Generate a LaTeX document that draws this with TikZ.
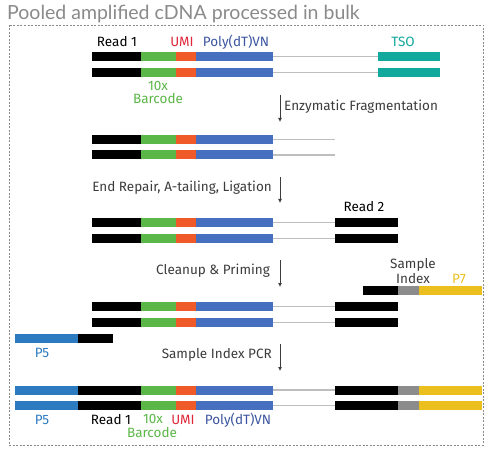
\documentclass[tikz,border=0pt]{standalone}
\usepackage{fontspec}
\usetikzlibrary{arrows.meta}
\setmainfont{Fira Sans}
\newfontfamily\titlefont{Lato}
\definecolor{cBlack}{HTML}{000000}
\definecolor{cGreen}{HTML}{5BB748}
\definecolor{cOrange}{HTML}{F05A28}
\definecolor{cBlue}{HTML}{4670BF}
\definecolor{cTeal}{HTML}{11A99C}
\definecolor{cLine}{HTML}{BEBEBE}
\definecolor{cP5}{HTML}{2C7BC0}
\definecolor{cYellow}{HTML}{EBC01E}
\definecolor{cIdx}{HTML}{8C8C8C}
\definecolor{cText}{HTML}{3C3C3C}
\definecolor{cRed}{HTML}{E0283A}
\definecolor{cPoly}{HTML}{3C55A0}
\definecolor{cTitle}{HTML}{8A8A8A}
\newcommand{\dnaseg}[4]{\fill[#1] (#2,#4-4.5) rectangle (#3,#4+4.5);}
\newcommand{\dnaline}[3]{\draw[cLine,line width=1.2] (#1,#3) -- (#2,#3);}
\newcommand{\insertstrand}[1]{%
  \dnaseg{cBlack}{92}{141}{#1}\dnaseg{cGreen}{141}{176}{#1}\dnaseg{cOrange}{176}{196}{#1}\dnaseg{cBlue}{196}{273}{#1}}
\begin{document}
\begin{tikzpicture}[x=1pt,y=-1pt,
  lbl/.style={inner sep=0pt,font=\fontsize{13.5}{14}\selectfont},
  steplbl/.style={lbl,text=cText},
  stepar/.style={-{Latex[length=4pt,width=4pt]},line width=0.8,cText}]
\useasboundingbox (0,0) rectangle (489,454);
\fill[white] (0,0) rectangle (489,454);
\node[anchor=west,inner sep=0pt,text=cTitle,font=\titlefont\fontsize{19.5}{21}\selectfont] (title) at (7,14) {Pooled amplified cDNA processed in bulk};
\draw[cTitle,dashed,dash pattern=on 2pt off 1.5pt,line width=0.8] (9,25) rectangle (483,445);
% Row 1
\foreach \y in {56.5,72.5}{
  \insertstrand{\y}
  \dnaline{273}{378}{\y}
  \dnaseg{cTeal}{378}{440}{\y}}
\node[lbl] (r1) at (117,42) {Read 1};
\node[lbl,text=cRed] (umi1) at (182,42) {UMI};
\node[lbl,text=cPoly] (poly1) at (236,42) {Poly(dT)VN};
\node[lbl,text=cTeal] (tso) at (403,42) {TSO};
\node[lbl,text=cGreen] (tenx1) at (158,86) {10x};
\node[lbl,text=cGreen] (bc1) at (158,99) {Barcode};
% Arrow 1
\coordinate (a1s) at (280,95); \coordinate (a1e) at (280,122);
\draw[stepar] (a1s) -- (a1e);
\node[steplbl,anchor=west] (s1) at (284,107) {Enzymatic Fragmentation};
% Row 2
\foreach \y in {139.5,155}{
  \insertstrand{\y}
  \dnaline{273}{335}{\y}}
% Arrow 2
\coordinate (a2s) at (280,177); \coordinate (a2e) at (280,203);
\draw[stepar] (a2s) -- (a2e);
\node[steplbl,anchor=east] (s2) at (272,188) {End Repair, A-tailing, Ligation};
% Row 3
\node[lbl] (r2) at (364,207) {Read 2};
\foreach \y in {222.5,238.5}{
  \insertstrand{\y}
  \dnaline{273}{335}{\y}
  \dnaseg{cBlack}{335}{398}{\y}}
% Arrow 3
\coordinate (a3s) at (280,260); \coordinate (a3e) at (280,287);
\draw[stepar] (a3s) -- (a3e);
\node[steplbl,anchor=east] (s3) at (270,271) {Cleanup \& Priming};
\node[steplbl] (samp) at (413,265) {Sample};
\node[steplbl] (idx) at (413,279) {Index};
\node[lbl,text=cYellow] (p7) at (459,279) {P7};
% P7 primer
\dnaseg{cBlack}{363}{398}{290.5}
\dnaseg{cIdx}{398}{419}{290.5}
\dnaseg{cYellow}{419}{482}{290.5}
% Row 4
\foreach \y in {306.5,322.5}{
  \insertstrand{\y}
  \dnaline{273}{335}{\y}
  \dnaseg{cBlack}{335}{398}{\y}}
% P5 primer
\dnaseg{cP5}{15}{78}{338}
\dnaseg{cBlack}{78}{113}{338}
\node[lbl,text=cP5] (p5a) at (42,353) {P5};
% Arrow 4
\coordinate (a4s) at (280,344); \coordinate (a4e) at (280,371);
\draw[stepar] (a4s) -- (a4e);
\node[steplbl,anchor=east] (s4) at (272,355) {Sample Index PCR};
% Row 5
\foreach \y in {390,405.5}{
  \dnaseg{cP5}{15}{78}{\y}
  \dnaseg{cBlack}{78}{141}{\y}\dnaseg{cGreen}{141}{176}{\y}\dnaseg{cOrange}{176}{196}{\y}\dnaseg{cBlue}{196}{273}{\y}
  \dnaline{273}{335}{\y}
  \dnaseg{cBlack}{335}{398}{\y}
  \dnaseg{cIdx}{398}{419}{\y}
  \dnaseg{cYellow}{419}{482}{\y}}
\node[lbl,text=cP5] (p5b) at (42,420) {P5};
\node[lbl] (r1b) at (111,420) {Read 1};
\node[lbl,text=cGreen] (tenx2) at (153,419) {10x};
\node[lbl,text=cGreen] (bc2) at (152,433) {Barcode};
\node[lbl,text=cRed] (umi2) at (183,420) {UMI};
\node[lbl,text=cPoly] (poly2) at (238,420) {Poly(dT)VN};
\end{tikzpicture}
\end{document}
